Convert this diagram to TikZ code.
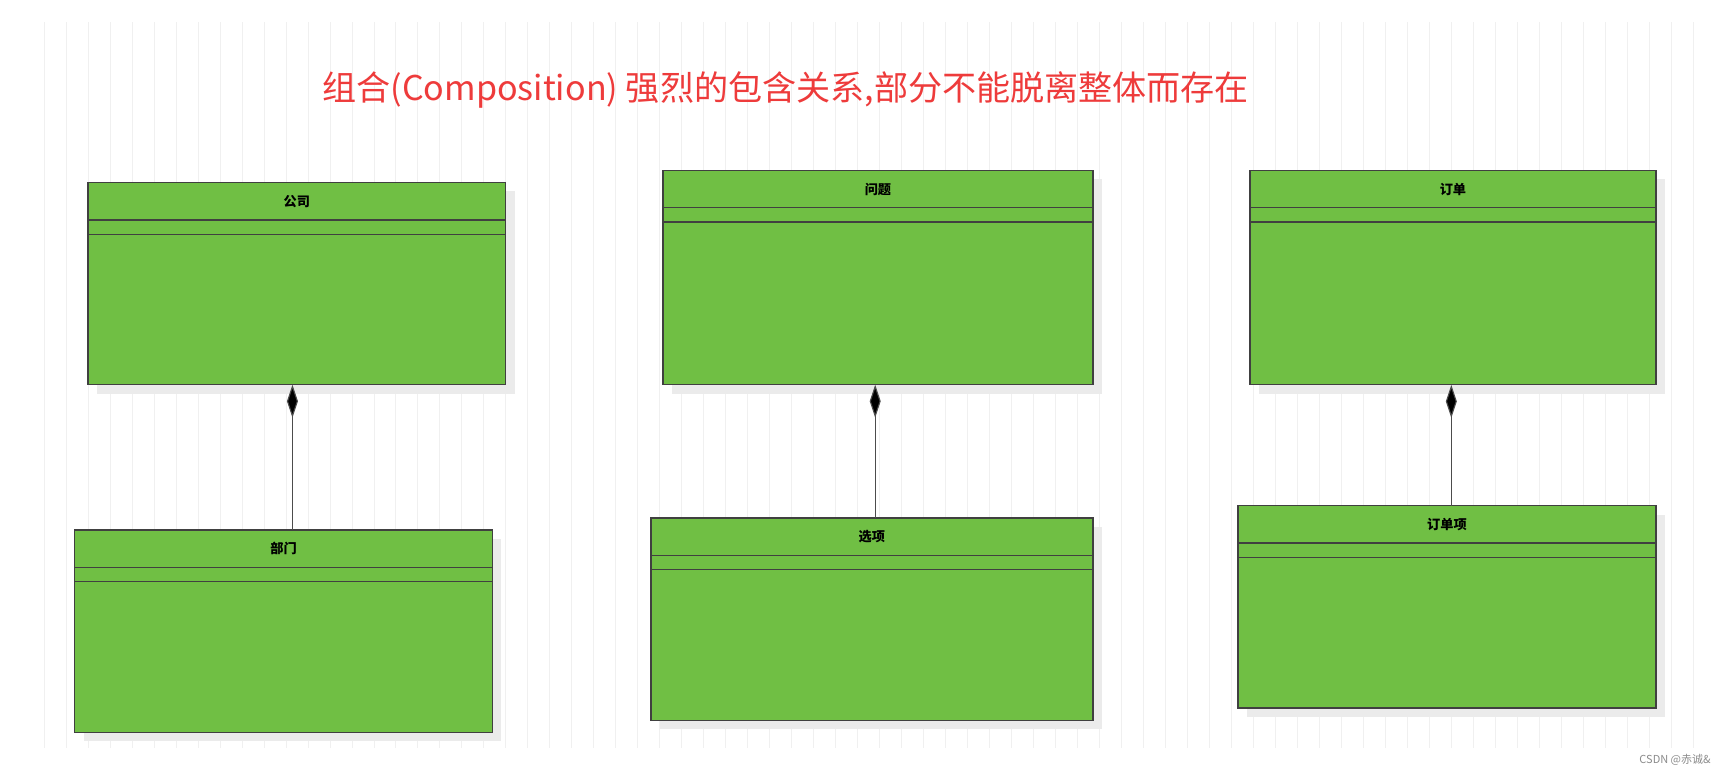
\documentclass[tikz,border=0pt]{standalone}
\usepackage{fontspec}
\newfontfamily\cjk{Noto Sans CJK SC}
\usetikzlibrary{arrows.meta}
\definecolor{boxg}{HTML}{70BF44}
\definecolor{ttl}{HTML}{EE3B3B}
\tikzset{
  cls/.style={draw=black!75, line width=1.2pt, fill=boxg},
  sep/.style={draw=black!75, line width=1.2pt},
  shad/.style={fill=black!8, draw=none},
  lbl/.style={font=\cjk\bfseries\fontsize{12}{14}\selectfont, anchor=center, inner sep=0pt},
  comp/.style={draw=black!70, line width=1pt, {Diamond[length=30pt,width=10pt,fill=black]}-}
}
\newcommand{\umlbox}[7]{% name, x1,y1,x2,y2, line1 y, label
  \fill[shad] (#2+8,#3+8) rectangle (#4+8,#5+8);
  \draw[cls] (#2,#3) rectangle (#4,#5);
  \draw[sep] (#2,#6) -- (#4,#6);
  \draw[sep] (#2,#6+13) -- (#4,#6+13);
  \node[lbl] (#1) at ({(#2+#4)/2},{(#3+#6)/2}) {#7};
  \coordinate (#1top) at ({(#2+#4)/2},#3);
}
\begin{document}
\begin{tikzpicture}[x=1pt,y=-1pt]
\useasboundingbox (0,0) rectangle (1568,705.6);
\fill[white] (0,0) rectangle (1568,705.6);
\draw[black!6, line width=0.6pt, step=20] (25,20) grid (1550,680);
\node[font=\cjk\fontsize{31}{36}\selectfont, text=ttl, anchor=west, inner sep=0pt] (title) at (293,82) {组合(Composition) 强烈的包含关系,部分不能脱离整体而存在};
\umlbox{a}{80}{166}{460}{350}{200}{公司}
\umlbox{b}{68}{482}{448}{666}{516}{部门}
\umlbox{c}{603}{155}{994}{350}{189}{问题}
\umlbox{d}{592}{471}{994}{655}{505}{选项}
\umlbox{e}{1137}{155}{1506}{350}{189}{订单}
\umlbox{f}{1126}{460}{1506}{644}{494}{订单项}
\coordinate (ab) at (266,350); \coordinate (bt) at (266,482);
\coordinate (cb) at (796,350); \coordinate (dt) at (796,471);
\coordinate (eb) at (1320,350); \coordinate (ft) at (1320,460);
\draw[comp] (ab) -- (bt);
\draw[comp] (cb) -- (dt);
\draw[comp] (eb) -- (ft);
\node[font=\cjk\fontsize{10}{12}\selectfont, text=black!45, anchor=east, inner sep=0pt] (foot) at (1556,691) {CSDN @赤诚\&};
\end{tikzpicture}
\end{document}
